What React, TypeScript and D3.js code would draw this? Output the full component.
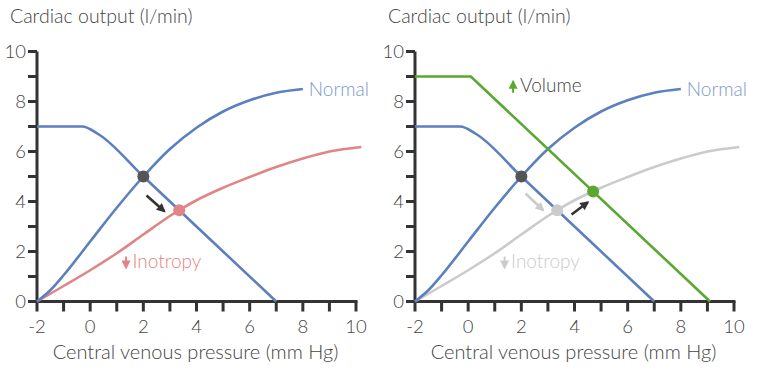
import * as d3 from "d3";
import React, { useEffect, useRef } from "react";

type Pt = [number, number];

// axis ticks
const xTicks = d3.range(-2, 11, 1);
const yTicks = d3.range(0, 11, 1);

// venous return curves
const normalVenous: Pt[] = [[-2, 7], [-0.3, 7], [0.3, 6.7], [2, 5], [7, 0]];
const highVolume: Pt[] = [[-2, 9], [0.1, 9], [9.1, 0]];

// cardiac function curves
const normalCardiac: Pt[] = [
  [-2, 0], [-1.5, 0.45], [-1, 1.05], [0, 2.4], [1, 3.75], [2, 5], [3, 6.1],
  [4, 6.95], [5, 7.6], [6, 8.05], [7, 8.35], [8, 8.5],
];
const lowInotropy: Pt[] = [
  [-2, 0], [-1, 0.62], [0, 1.25], [1, 1.93], [2, 2.68], [3, 3.42], [4, 4.05],
  [5, 4.55], [6, 4.98], [7, 5.38], [8, 5.72], [9, 6.0], [10.2, 6.18],
];

// equilibrium points
const normalPoint: Pt = [2, 5];
const inotropyPoint: Pt = [3.35, 3.65];
const volumePoint: Pt = [4.7, 4.4];

// shift arrows [from, to]
const leftArrow: Pt[] = [[2.12, 4.24], [2.79, 3.61]];
const rightGreyArrow: Pt[] = [[2.16, 4.32], [2.82, 3.65]];
const rightDarkArrow: Pt[] = [[3.89, 3.48], [4.5, 3.97]];

const BLUE = "#5b7fbf";
const BLUE_TEXT = "#7c98cc";
const RED = "#e08585";
const GREEN = "#5aa832";
const GREY = "#cbcbcb";
const DARK = "#555555";
const AXIS = "#333333";
const TEXT = "#444444";
const FONT = "Lato, 'Open Sans', sans-serif";

const App: React.FC = () => {
  const svgRef = useRef<SVGSVGElement | null>(null);

  useEffect(() => {
    const svg = d3.select(svgRef.current);
    svg.selectAll("*").remove();

    const defs = svg.append("defs");
    const marker = (id: string, color: string) =>
      defs
        .append("marker")
        .attr("id", id)
        .attr("viewBox", "0 0 10 10")
        .attr("refX", 8)
        .attr("refY", 5)
        .attr("markerWidth", 10)
        .attr("markerHeight", 9)
        .attr("markerUnits", "userSpaceOnUse")
        .attr("orient", "auto")
        .append("path")
        .attr("d", "M0,0L10,5L0,10Z")
        .attr("fill", color);
    marker("head-dark", AXIS);
    marker("head-grey", GREY);
    marker("head-red", RED);
    marker("head-green", GREEN);

    const panel = (x0: number, y0: number, right: boolean) => {
      const x = d3.scaleLinear().domain([-2, 10]).range([x0, x0 + 319]);
      const y = d3.scaleLinear().domain([0, 10]).range([y0, y0 - 250]);
      const g = svg.append("g");
      const line = d3
        .line<Pt>()
        .x((d) => x(d[0]))
        .y((d) => y(d[1]));

      // title
      g.append("text")
        .attr("x", x0 - 27)
        .attr("y", 23)
        .attr("font-size", 19.5)
        .attr("fill", TEXT)
        .text("Cardiac output (l/min)");

      // axes
      g.append("line")
        .attr("x1", x(-2)).attr("x2", x(-2))
        .attr("y1", y(10)).attr("y2", y(0))
        .attr("stroke", AXIS).attr("stroke-width", 3);
      g.append("line")
        .attr("x1", x(-2) - 1.5).attr("x2", x(10) + 1.5)
        .attr("y1", y(0)).attr("y2", y(0))
        .attr("stroke", AXIS).attr("stroke-width", 3);
      g.append("g")
        .selectAll("line")
        .data(yTicks)
        .join("line")
        .attr("x1", x(-2) - 9).attr("x2", x(-2))
        .attr("y1", (d) => y(d)).attr("y2", (d) => y(d))
        .attr("stroke", AXIS).attr("stroke-width", 3);
      g.append("g")
        .selectAll("line")
        .data(xTicks)
        .join("line")
        .attr("x1", (d) => x(d)).attr("x2", (d) => x(d))
        .attr("y1", y(0)).attr("y2", y(0) + 10)
        .attr("stroke", AXIS).attr("stroke-width", 3);
      g.append("g")
        .selectAll("text")
        .data(yTicks.filter((d) => d % 2 === 0))
        .join("text")
        .attr("x", x(-2) - 11)
        .attr("y", (d) => y(d) + 6.5)
        .attr("text-anchor", "end")
        .attr("font-size", 18.5)
        .attr("fill", TEXT)
        .text((d) => d);
      g.append("g")
        .selectAll("text")
        .data(xTicks.filter((d) => d % 2 === 0))
        .join("text")
        .attr("x", (d) => x(d))
        .attr("y", y(0) + 31)
        .attr("text-anchor", "middle")
        .attr("font-size", 18.5)
        .attr("fill", TEXT)
        .text((d) => d);
      g.append("text")
        .attr("x", x(4) - 1)
        .attr("y", y(0) + 57)
        .attr("text-anchor", "middle")
        .attr("font-size", 20)
        .attr("fill", TEXT)
        .text("Central venous pressure (mm Hg)");

      const curve = (data: Pt[], color: string, linear = false) =>
        g.append("path")
          .attr("d", line.curve(linear ? d3.curveLinear : d3.curveMonotoneX)(data))
          .attr("fill", "none")
          .attr("stroke", color)
          .attr("stroke-width", 2.6);

      const inoColor = right ? GREY : RED;
      curve(lowInotropy, inoColor);
      curve(normalVenous, BLUE);
      curve(normalCardiac, BLUE);
      if (right) curve(highVolume, GREEN, true);

      const arrow = (pts: Pt[], head: string, color: string) =>
        g.append("line")
          .attr("x1", x(pts[0][0])).attr("y1", y(pts[0][1]))
          .attr("x2", x(pts[1][0])).attr("y2", y(pts[1][1]))
          .attr("stroke", color).attr("stroke-width", 2.6)
          .attr("marker-end", `url(#${head})`);

      const dot = (p: Pt, color: string) =>
        g.append("circle")
          .attr("cx", x(p[0])).attr("cy", y(p[1]))
          .attr("r", 6).attr("fill", color);

      dot(normalPoint, DARK);
      dot(inotropyPoint, right ? GREY : RED);
      if (right) {
        dot(volumePoint, GREEN);
        arrow(rightGreyArrow, "head-grey", GREY);
        arrow(rightDarkArrow, "head-dark", AXIS);
      } else {
        arrow(leftArrow, "head-dark", AXIS);
      }

      // labels
      g.append("text")
        .attr("x", x(8) + 6)
        .attr("y", y(8.5) + 6.5)
        .attr("font-size", 19)
        .attr("fill", BLUE_TEXT)
        .text("Normal");

      const ix = right ? x(1.37) : x(1.35);
      g.append("line")
        .attr("x1", ix).attr("x2", ix)
        .attr("y1", y(1.8)).attr("y2", y(1.35))
        .attr("stroke", inoColor).attr("stroke-width", 2)
        .attr("marker-end", `url(#${right ? "head-grey" : "head-red"})`);
      g.append("text")
        .attr("x", ix + 6.5)
        .attr("y", y(1.33))
        .attr("font-size", 19)
        .attr("fill", inoColor)
        .text("Inotropy");

      if (right) {
        const vx = x(1.69);
        g.append("line")
          .attr("x1", vx).attr("x2", vx)
          .attr("y1", y(8.35)).attr("y2", y(8.8))
          .attr("stroke", GREEN).attr("stroke-width", 2)
          .attr("marker-end", "url(#head-green)");
        g.append("text")
          .attr("x", vx + 7)
          .attr("y", y(8.4))
          .attr("font-size", 19)
          .attr("fill", TEXT)
          .text("Volume");
      }
    };

    panel(37, 301.5, false);
    panel(415, 301.5, true);

    svg.attr("width", 768).attr("height", 373);
  }, []);

  return (
    <svg
      ref={svgRef}
      style={{
        position: "absolute",
        left: 0,
        top: 0,
        fontFamily: FONT,
        fontWeight: 300,
        background: "#fff",
      }}
    />
  );
};

export default App;
